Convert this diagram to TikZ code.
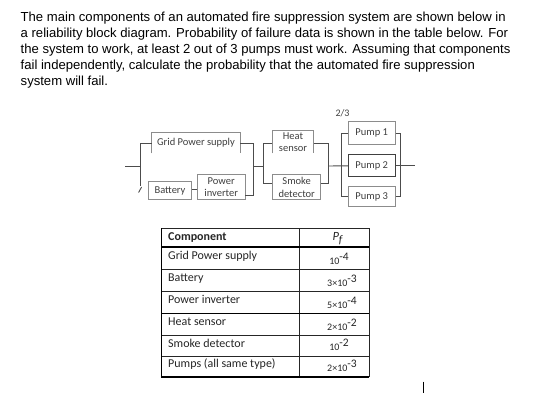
\documentclass[tikz,border=0pt]{standalone}
\usepackage{fontspec}
\setmainfont{Liberation Sans}
\newfontfamily\carl{Carlito}
\begin{document}
\begin{tikzpicture}[x=1pt,y=-1pt,
  titletxt/.style={anchor=base west,inner sep=0pt,font=\fontsize{13.1}{15.85}\selectfont},
  blk/.style={draw=black!45,line width=0.9pt,inner sep=0pt,align=center,text=black!75,
    font=\carl\fontsize{10.5}{12.6}\selectfont},
  openblk/.style={blk,draw=none},
  boxline/.style={draw=black!45,line width=0.9pt},
  wire/.style={draw=black!70,line width=0.9pt},
  tcell/.style={anchor=base west,inner sep=0pt,text=black!85,font=\carl\fontsize{12}{14}\selectfont},
  tval/.style={anchor=base,inner sep=0pt,text=black!85,font=\carl\fontsize{10}{11}\selectfont},
  tthin/.style={draw=black!85,line width=0.8pt},
  tthick/.style={draw=black,line width=1.6pt}]
\useasboundingbox (0,0) rectangle (536,409);
\fill[white] (0,0) rectangle (536,409);

% question text
\node[titletxt] (t1) at (20.5,21.7) {The main components of an automated fire suppression system are shown below in};
\node[titletxt] (t2) at (20.5,37.6) {a reliability block diagram. Probability of failure data is shown in the table below. For};
\node[titletxt] (t3) at (20.5,53.4) {the system to work, at least 2 out of 3 pumps must work. Assuming that components};
\node[titletxt] (t4) at (20.5,69.3) {fail independently, calculate the probability that the automated fire suppression};
\node[titletxt] (t5) at (20.5,85.1) {system will fail.};

% blocks
\node[openblk,minimum width=88pt,minimum height=20pt] (gps) at (196,143) {Grid Power supply};
\draw[boxline] (gps.south west) -- (gps.north west) -- (gps.north east) -- (gps.south east);
\node[blk,minimum width=43.4pt,minimum height=18.4pt] (bat) at (170,190.5) {Battery};
\node[blk,minimum width=47.7pt,minimum height=25pt] (inv) at (221.2,187.2) {Power\\inverter};
\node[openblk,minimum width=40.6pt,minimum height=21.7pt,font=\carl\fontsize{10.5}{12.4}\selectfont] (heat) at (293,142.2) {Heat\\sensor};
\draw[boxline] (heat.south west) -- (heat.north west) -- (heat.north east) -- (heat.south east);
\node[blk,minimum width=48pt,minimum height=25pt,font=\carl\fontsize{10.5}{13.3}\selectfont] (smoke) at (296.7,187.2) {Smoke\\detector};
\node[blk,minimum width=46.7pt,minimum height=23.3pt] (p1) at (371.7,133.3) {Pump 1};
\node[blk,draw=black!75,minimum width=46.7pt,minimum height=21.7pt] (p2) at (371.7,165.8) {Pump 2};
\node[blk,minimum width=46.7pt,minimum height=20pt] (p3) at (371.7,196.7) {Pump 3};
\node[inner sep=0pt,text=black!75,font=\carl\fontsize{10}{12}\selectfont] (k) at (342.5,113.3) {2/3};

% junction coordinates
\coordinate (in0) at (125,166.3);
\coordinate (a0) at (140,166.3);
\coordinate (a1) at (140,143);
\coordinate (a2) at (140,186.5);
\coordinate (a3) at (141.6,187);
\coordinate (a4) at (138.6,192.5);
\coordinate (b1) at (253.3,143);
\coordinate (b2) at (253.3,195);
\coordinate (b3) at (245,195);
\coordinate (b0) at (253.3,166.3);
\coordinate (c0) at (263.3,166.3);
\coordinate (c1) at (263.3,143);
\coordinate (c2) at (263.3,183);
\coordinate (d1) at (328.3,143);
\coordinate (d2) at (328.3,183);
\coordinate (d0) at (328.3,166);
\coordinate (e1) at (341.7,133.3);
\coordinate (e3) at (341.7,196.7);
\coordinate (f1) at (400,133.3);
\coordinate (f3) at (400,196.7);
\coordinate (out) at (415,165.8);

% wires
\draw[wire] (in0) -- (a0);
\draw[wire] (gps.west) -- (a1) -- (a2);
\draw[wire] (a3) -- (a4);
\draw[wire] (bat.east |- 0,189.7) -- (inv.west |- 0,189.7);
\draw[wire] (gps.east) -- (b1) -- (b2) -- (b3);
\draw[wire] (b0) -- (c0);
\draw[wire] (heat.west |- c1) -- (c1) -- (c2) -- (smoke.west |- c2);
\draw[wire] (heat.east |- d1) -- (d1) -- (d2) -- (smoke.east |- d2);
\draw[wire] (d0) -- (p2.west);
\draw[wire] (p1.west) -- (e1) -- (e3) -- (p3.west);
\draw[wire] (p1.east) -- (f1) -- (f3) -- (p3.east);
\draw[wire] (p2.east) -- (out);

% table
\coordinate (tl) at (161.7,228.3);
\coordinate (tm) at (299,228.3);
\coordinate (tr) at (369,228.3);
\draw[tthin] (161.7,228.3) -- (369,228.3);
\draw[tthin] (161.7,269.3) -- (369,269.3);
\draw[tthin] (161.7,291) -- (369,291);
\draw[tthin] (161.7,335) -- (369,335);
\draw[tthin] (161.7,356) -- (369,356);
\draw[tthin] (tm) -- (299,376.7);
\draw[tthin] (tr) -- (369,376.7);
\draw[tthick] (161.7,246.7) -- (369,246.7);
\draw[tthick] (161.7,313.3) -- (369,313.3);
\draw[tthick] (160.9,376.7) -- (369.4,376.7);
\draw[draw=black,line width=1.3pt] (tl) -- (161.7,376.7);

\node[tcell,font=\carl\bfseries\fontsize{12}{14}\selectfont] (h1) at (168,240.3) {Component};
\node[tval,font=\carl\itshape\fontsize{12.5}{14}\selectfont] (h2) at (337.5,240.3) {P\raisebox{-2.8pt}{\fontsize{11.5}{12}\selectfont f}};
\node[tcell] (r1) at (168,259.3) {Grid Power supply};
\node[tcell] (r2) at (168,281) {Battery};
\node[tcell] (r3) at (168,303.3) {Power inverter};
\node[tcell] (r4) at (168,325) {Heat sensor};
\node[tcell] (r5) at (168,347.3) {Smoke detector};
\node[tcell] (r6) at (168,367.3) {Pumps (all same type)};

\newcommand{\myexp}[1]{\raisebox{4pt}{\fontsize{11.5}{12}\selectfont -#1}}
\node[tval] (v1) at (339,265) {10\myexp{4}};
\node[tval] (v2) at (342,286.7) {3×10\myexp{3}};
\node[tval] (v3) at (342,308.3) {5×10\myexp{4}};
\node[tval] (v4) at (342,330) {2×10\myexp{2}};
\node[tval] (v5) at (339,350) {10\myexp{2}};
\node[tval] (v6) at (342,371.7) {2×10\myexp{3}};

% cursor mark
\draw[black,line width=0.9pt] (423.3,381.7) -- (423.3,392.7);
\end{tikzpicture}
\end{document}
